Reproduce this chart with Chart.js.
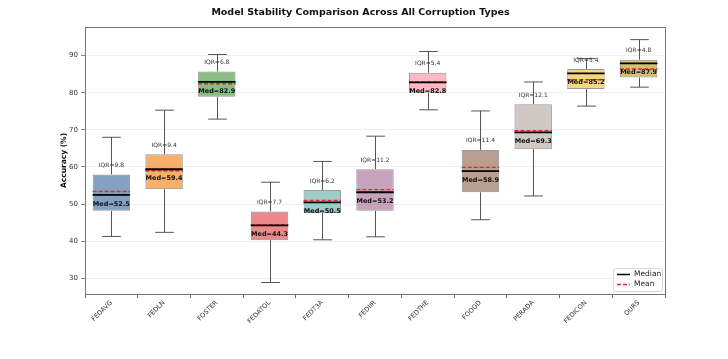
<!DOCTYPE html>
<html>
<head>
<meta charset="utf-8">
<script src="https://cdn.jsdelivr.net/npm/chart.js@4.4.1/dist/chart.umd.min.js"></script>
<style>
    html, body { margin: 0; padding: 0; background: #fff; }
    #wrap { width: 728px; height: 359px; }
</style>
</head>
<body>
<div id="wrap"><canvas id="chart" width="728" height="359"></canvas></div>
<script>
// data
const categories = ["FEDAVG", "FEDLN", "FOSTER", "FEDATOL", "FEDT3A", "FEDIIR", "FEDTHE", "FOOGD", "PERADA", "FEDICON", "OURS"];
const whiskerLow = [41.3, 42.4, 72.9, 28.9, 40.4, 41.2, 75.4, 45.8, 52.2, 76.4, 81.5];
const q1 = [48.2, 54.0, 78.9, 40.3, 47.6, 48.2, 80.0, 53.2, 64.8, 81.0, 84.1];
const medians = [52.5, 59.4, 82.9, 44.3, 50.5, 53.2, 82.8, 58.9, 69.3, 85.2, 87.9];
const means = [53.4, 59.0, 82.4, 44.4, 51.0, 53.9, 82.9, 59.9, 69.8, 83.5, 86.4];
const q3 = [58.0, 63.4, 85.7, 48.0, 53.8, 59.4, 85.4, 64.6, 76.9, 86.4, 88.9];
const whiskerHigh = [68.0, 75.3, 90.3, 55.9, 61.5, 68.3, 91.1, 75.1, 82.9, 89.2, 94.3];
const iqrValues = [9.8, 9.4, 6.8, 7.7, 6.2, 11.2, 5.4, 11.4, 12.1, 5.4, 4.8];
const yTicks = [30, 40, 50, 60, 70, 80, 90];

const boxColors = ["#4E79A7", "#F28E2B", "#59A14F", "#E15759", "#76B7B2", "#B07AA1", "#FF9DA7", "#9C755F", "#BAB0AC", "#EDC948", "#C1A53B"];

const FONT = "'DejaVu Sans', sans-serif";

function withAlpha(hex, a) {
    const r = parseInt(hex.slice(1, 3), 16);
    const g = parseInt(hex.slice(3, 5), 16);
    const b = parseInt(hex.slice(5, 7), 16);
    return "rgba(" + r + "," + g + "," + b + "," + a + ")";
}

// whiskers behind the boxes, medians / means / labels on top
const boxPlotExtras = {
    id: "boxPlotExtras",
    beforeDatasetsDraw(chart) {
        const ctx = chart.ctx;
        const y = chart.scales.y;
        const bars = chart.getDatasetMeta(0).data;
        ctx.save();
        ctx.strokeStyle = "#555";
        ctx.lineWidth = 1;
        bars.forEach((bar, i) => {
            const cx = Math.round(bar.x) + 0.5;
            const half = bar.width / 4;
            const yLo = y.getPixelForValue(whiskerLow[i]);
            const yHi = y.getPixelForValue(whiskerHigh[i]);
            ctx.beginPath();
            ctx.moveTo(cx, y.getPixelForValue(q3[i]));
            ctx.lineTo(cx, yHi);
            ctx.moveTo(cx, y.getPixelForValue(q1[i]));
            ctx.lineTo(cx, yLo);
            ctx.moveTo(cx - half, yHi);
            ctx.lineTo(cx + half, yHi);
            ctx.moveTo(cx - half, yLo);
            ctx.lineTo(cx + half, yLo);
            ctx.stroke();
        });
        ctx.restore();
    },
    afterDatasetsDraw(chart) {
        const ctx = chart.ctx;
        const y = chart.scales.y;
        const bars = chart.getDatasetMeta(0).data;
        ctx.save();
        bars.forEach((bar, i) => {
            const left = bar.x - bar.width / 2;
            const right = bar.x + bar.width / 2;
            const yMed = y.getPixelForValue(medians[i]);
            const yMean = y.getPixelForValue(means[i]);

            ctx.setLineDash([4, 2]);
            ctx.strokeStyle = "#e8262a";
            ctx.lineWidth = 1.4;
            ctx.beginPath();
            ctx.moveTo(left, yMean);
            ctx.lineTo(right, yMean);
            ctx.stroke();

            ctx.setLineDash([]);
            ctx.strokeStyle = "#000";
            ctx.lineWidth = 1.8;
            ctx.beginPath();
            ctx.moveTo(left, yMed);
            ctx.lineTo(right, yMed);
            ctx.stroke();

            ctx.textAlign = "center";
            ctx.textBaseline = "middle";
            ctx.fillStyle = "#111";
            ctx.font = "bold 6.5px " + FONT;
            ctx.fillText("Med=" + medians[i].toFixed(1), bar.x, yMed + 9);

            ctx.fillStyle = "#333";
            ctx.font = "6px " + FONT;
            ctx.fillText("IQR=" + iqrValues[i].toFixed(1), bar.x, y.getPixelForValue(q3[i]) - 9);
        });
        ctx.restore();
    },
    afterDraw(chart) {
        const ctx = chart.ctx;
        const a = chart.chartArea;
        ctx.save();
        // frame round the plot
        ctx.strokeStyle = "#777";
        ctx.lineWidth = 1;
        ctx.strokeRect(Math.round(a.left) + 0.5, Math.round(a.top) + 0.5, Math.round(a.right - a.left), Math.round(a.bottom - a.top));

        // legend, lower right
        const lx = a.right - 52, ly = a.bottom - 26, lw = 49, lh = 23;
        ctx.fillStyle = "rgba(255,255,255,0.85)";
        ctx.strokeStyle = "#d8d8d8";
        ctx.beginPath();
        ctx.roundRect(lx + 0.5, ly + 0.5, lw, lh, 2);
        ctx.fill();
        ctx.stroke();

        ctx.lineWidth = 1.5;
        ctx.strokeStyle = "#000";
        ctx.beginPath();
        ctx.moveTo(lx + 4, ly + 6.5);
        ctx.lineTo(lx + 17, ly + 6.5);
        ctx.stroke();
        ctx.strokeStyle = "#e8262a";
        ctx.setLineDash([4, 2]);
        ctx.beginPath();
        ctx.moveTo(lx + 4, ly + 16.5);
        ctx.lineTo(lx + 17, ly + 16.5);
        ctx.stroke();
        ctx.setLineDash([]);

        ctx.fillStyle = "#222";
        ctx.font = "7.5px " + FONT;
        ctx.textAlign = "left";
        ctx.textBaseline = "middle";
        ctx.fillText("Median", lx + 21, ly + 6.5);
        ctx.fillText("Mean", lx + 21, ly + 16.5);
        ctx.restore();
    }
};

function renderChart() {
    const canvas = document.getElementById("chart");

    new Chart(canvas, {
        type: "bar",
        data: {
            labels: categories,
            datasets: [{
                label: "IQR",
                data: categories.map((c, i) => [q1[i], q3[i]]),
                backgroundColor: boxColors.map(c => withAlpha(c, 0.7)),
                borderColor: "#999",
                borderWidth: 1,
                borderSkipped: false,
                categoryPercentage: 1,
                barPercentage: 0.71
            }]
        },
        options: {
            responsive: false,
            animation: false,
            layout: {
                padding: { left: 56, right: 63, top: 0, bottom: 0 }
            },
            plugins: {
                legend: { display: false },
                tooltip: { enabled: false },
                title: {
                    display: true,
                    text: "Model Stability Comparison Across All Corruption Types",
                    color: "#111",
                    font: { family: FONT, size: 9.5, weight: "bold" },
                    padding: { top: 7, bottom: 8.6 }
                }
            },
            scales: {
                x: {
                    offset: true,
                    grid: { drawOnChartArea: false, tickColor: "#666", tickLength: 4 },
                    border: { color: "#777" },
                    ticks: {
                        color: "#333",
                        font: { family: FONT, size: 6.5 },
                        maxRotation: 45,
                        minRotation: 45,
                        padding: 1
                    },
                    afterFit(scale) { scale.height = 65; }
                },
                y: {
                    min: 25.8,
                    max: 97.7,
                    grid: { color: "#ececec", lineWidth: 0.8, tickColor: "#666", tickLength: 4 },
                    border: { color: "#777" },
                    ticks: {
                        color: "#333",
                        font: { family: FONT, size: 7 },
                        padding: 3
                    },
                    afterBuildTicks(scale) {
                        scale.ticks = yTicks.map(v => ({ value: v }));
                    },
                    title: {
                        display: true,
                        text: "Accuracy (%)",
                        color: "#111",
                        font: { family: FONT, size: 7.5, weight: "bold" },
                        padding: { top: 4, bottom: 4 }
                    },
                    afterFit(scale) { scale.width = 29; }
                }
            }
        },
        plugins: [boxPlotExtras]
    });
}

renderChart();
</script>
</body>
</html>
